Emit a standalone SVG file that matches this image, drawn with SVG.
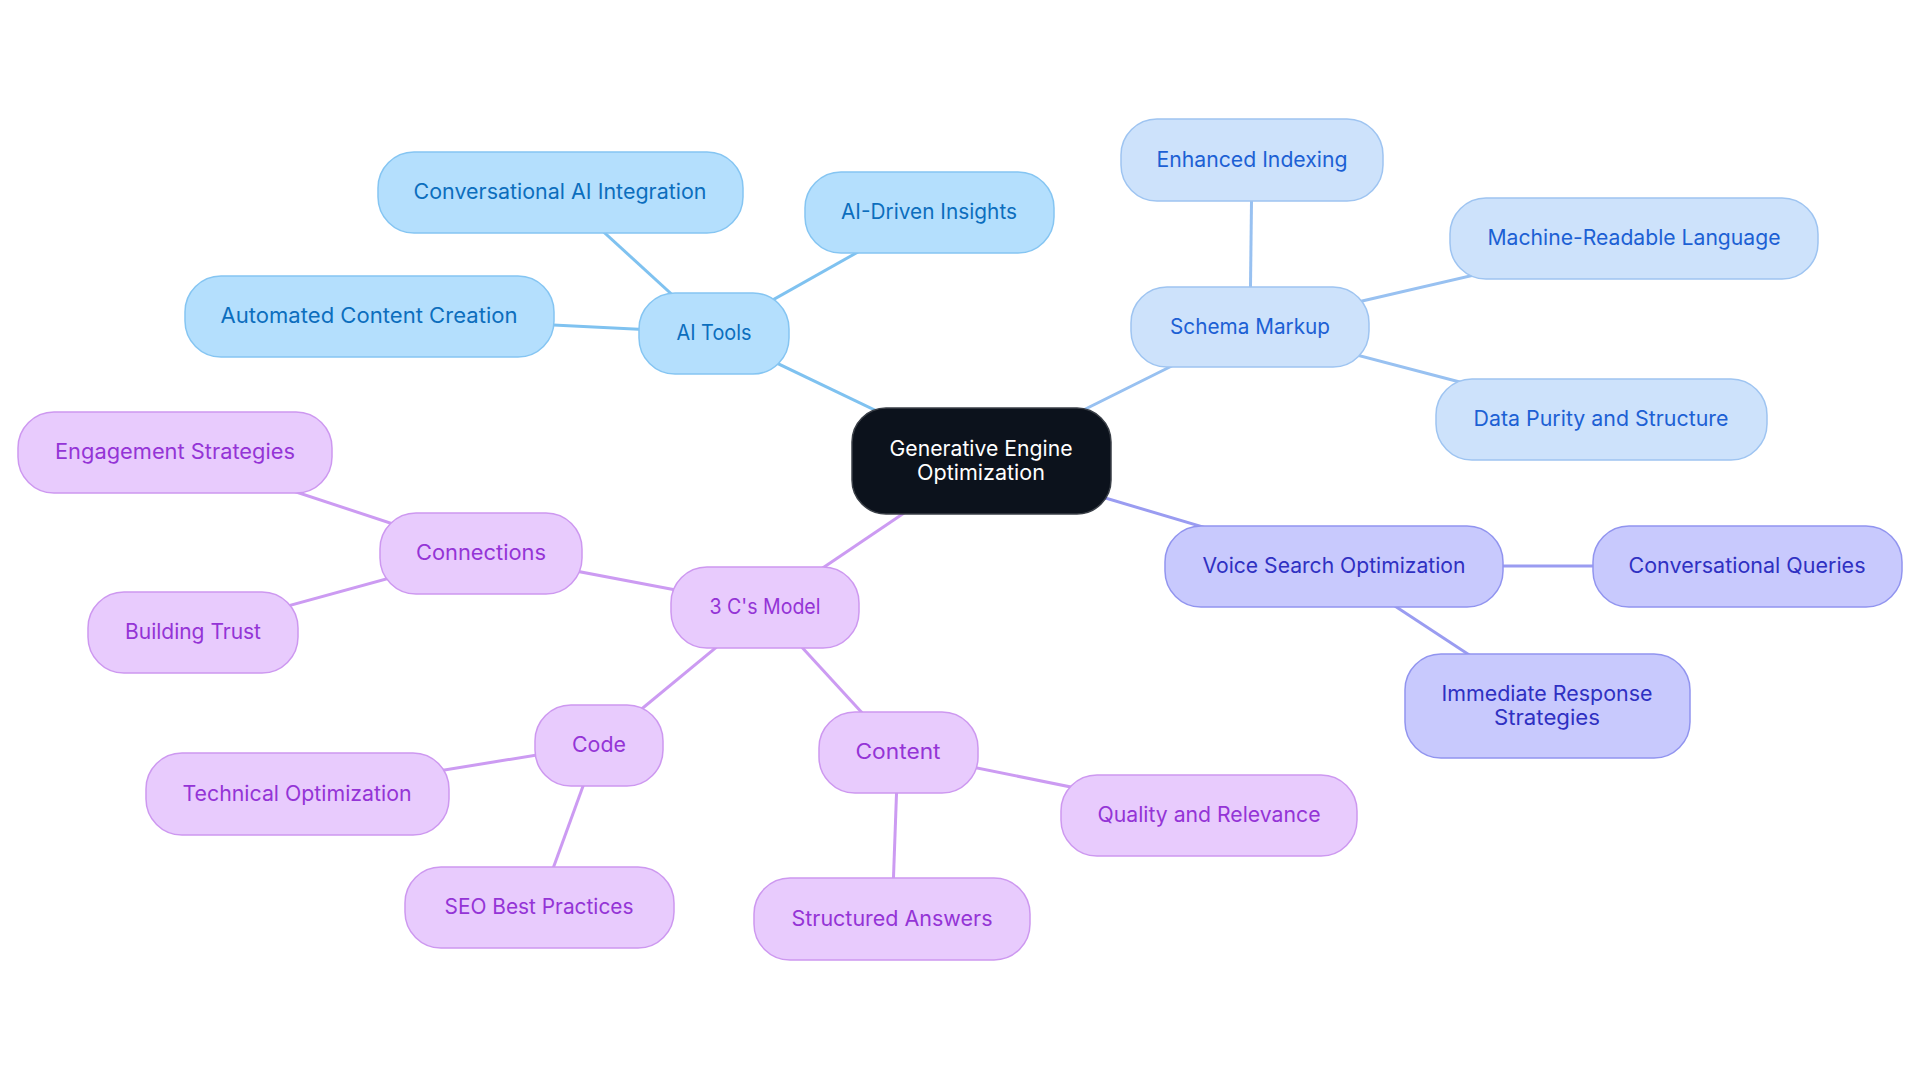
<svg xmlns="http://www.w3.org/2000/svg" width="1920" height="1083" viewBox="0 0 1920 1083">
<style>
text{font-family:Inter,"Liberation Sans",sans-serif;font-size:21px;text-anchor:middle}
.blue rect{fill:#b4dffd;stroke:#85c5f2;stroke-width:1.5}
.blue text{fill:#0c6ebd}
.sch rect{fill:#cde2fb;stroke:#9ec4f1;stroke-width:1.5}
.sch text{fill:#1c60d4}
.vo rect{fill:#c8c9fd;stroke:#9194ef;stroke-width:1.5}
.vo text{fill:#2f30c2}
.pu rect{fill:#e8cbfd;stroke:#cd98f0;stroke-width:1.5}
.pu text{fill:#9434d6}
.root rect{fill:#0c121c;stroke:#3a3f47;stroke-width:1.5}
.root text{fill:#ffffff}
#connectors line{stroke-width:3;fill:none}
.lb{stroke:#7fc2f0}.ls{stroke:#98c1f1}.lv{stroke:#9a9cf1}.lp{stroke:#cc9bf2}
</style>
<rect width="1920" height="1083" fill="#ffffff"/>
<g id="connectors">
<line class="lb" x1="714" y1="333" x2="981" y2="461"/>
<line class="lb" x1="560" y1="192" x2="714" y2="333"/>
<line class="lb" x1="369" y1="316" x2="714" y2="333"/>
<line class="lb" x1="929" y1="212" x2="714" y2="333"/>
<line class="ls" x1="1250" y1="327" x2="981" y2="461"/>
<line class="ls" x1="1250" y1="327" x2="1252" y2="160"/>
<line class="ls" x1="1250" y1="327" x2="1634" y2="238"/>
<line class="ls" x1="1250" y1="327" x2="1601" y2="419"/>
<line class="lv" x1="1334" y1="566" x2="981" y2="461"/>
<line class="lv" x1="1334" y1="566" x2="1747" y2="566"/>
<line class="lv" x1="1334" y1="566" x2="1547" y2="706"/>
<line class="lp" x1="765" y1="607" x2="981" y2="461"/>
<line class="lp" x1="765" y1="607" x2="481" y2="553"/>
<line class="lp" x1="481" y1="553" x2="175" y2="452"/>
<line class="lp" x1="481" y1="553" x2="193" y2="632"/>
<line class="lp" x1="765" y1="607" x2="598" y2="745"/>
<line class="lp" x1="598" y1="745" x2="297" y2="794"/>
<line class="lp" x1="598" y1="745" x2="539" y2="907"/>
<line class="lp" x1="765" y1="607" x2="898" y2="752"/>
<line class="lp" x1="898" y1="752" x2="1209" y2="815"/>
<line class="lp" x1="898" y1="752" x2="892" y2="919"/>
</g>
<g id="n-root" class="root"><rect x="852" y="408" width="259" height="106" rx="34"/><text x="981" y="456" textLength="183" lengthAdjust="spacingAndGlyphs">Generative Engine</text><text x="981" y="480" textLength="128" lengthAdjust="spacingAndGlyphs">Optimization</text></g>
<g id="n-aitools" class="blue"><rect x="639" y="293" width="150" height="81" rx="36"/><text x="714" y="340" textLength="75" lengthAdjust="spacingAndGlyphs">AI Tools</text></g>
<g id="n-cai" class="blue"><rect x="378" y="152" width="365" height="81" rx="36"/><text x="560" y="199" textLength="293" lengthAdjust="spacingAndGlyphs">Conversational AI Integration</text></g>
<g id="n-acc" class="blue"><rect x="185" y="276" width="369" height="81" rx="36"/><text x="369" y="323" textLength="297" lengthAdjust="spacingAndGlyphs">Automated Content Creation</text></g>
<g id="n-adi" class="blue"><rect x="805" y="172" width="249" height="81" rx="36"/><text x="929" y="219" textLength="176" lengthAdjust="spacingAndGlyphs">AI-Driven Insights</text></g>
<g id="n-schema" class="sch"><rect x="1131" y="287" width="238" height="80" rx="36"/><text x="1250" y="334" textLength="160" lengthAdjust="spacingAndGlyphs">Schema Markup</text></g>
<g id="n-index" class="sch"><rect x="1121" y="119" width="262" height="82" rx="36"/><text x="1252" y="167" textLength="191" lengthAdjust="spacingAndGlyphs">Enhanced Indexing</text></g>
<g id="n-mrl" class="sch"><rect x="1450" y="198" width="368" height="81" rx="36"/><text x="1634" y="245" textLength="293" lengthAdjust="spacingAndGlyphs">Machine-Readable Language</text></g>
<g id="n-dps" class="sch"><rect x="1436" y="379" width="331" height="81" rx="36"/><text x="1601" y="426" textLength="255" lengthAdjust="spacingAndGlyphs">Data Purity and Structure</text></g>
<g id="n-vso" class="vo"><rect x="1165" y="526" width="338" height="81" rx="36"/><text x="1334" y="573" textLength="263" lengthAdjust="spacingAndGlyphs">Voice Search Optimization</text></g>
<g id="n-cq" class="vo"><rect x="1593" y="526" width="309" height="81" rx="36"/><text x="1747" y="573" textLength="237" lengthAdjust="spacingAndGlyphs">Conversational Queries</text></g>
<g id="n-irs" class="vo"><rect x="1405" y="654" width="285" height="104" rx="36"/><text x="1547" y="701" textLength="211" lengthAdjust="spacingAndGlyphs">Immediate Response</text><text x="1547" y="725" textLength="106" lengthAdjust="spacingAndGlyphs">Strategies</text></g>
<g id="n-3cs" class="pu"><rect x="671" y="567" width="188" height="81" rx="36"/><text x="765" y="614" textLength="111" lengthAdjust="spacingAndGlyphs">3 C's Model</text></g>
<g id="n-conn" class="pu"><rect x="380" y="513" width="202" height="81" rx="36"/><text x="481" y="560" textLength="130" lengthAdjust="spacingAndGlyphs">Connections</text></g>
<g id="n-eng" class="pu"><rect x="18" y="412" width="314" height="81" rx="36"/><text x="175" y="459" textLength="240" lengthAdjust="spacingAndGlyphs">Engagement Strategies</text></g>
<g id="n-trust" class="pu"><rect x="88" y="592" width="210" height="81" rx="36"/><text x="193" y="639" textLength="136" lengthAdjust="spacingAndGlyphs">Building Trust</text></g>
<g id="n-code" class="pu"><rect x="535" y="705" width="128" height="81" rx="36"/><text x="599" y="752" textLength="54" lengthAdjust="spacingAndGlyphs">Code</text></g>
<g id="n-tech" class="pu"><rect x="146" y="753" width="303" height="82" rx="36"/><text x="297" y="801" textLength="229" lengthAdjust="spacingAndGlyphs">Technical Optimization</text></g>
<g id="n-seo" class="pu"><rect x="405" y="867" width="269" height="81" rx="36"/><text x="539" y="914" textLength="189" lengthAdjust="spacingAndGlyphs">SEO Best Practices</text></g>
<g id="n-content" class="pu"><rect x="819" y="712" width="159" height="81" rx="36"/><text x="898" y="759" textLength="85" lengthAdjust="spacingAndGlyphs">Content</text></g>
<g id="n-qr" class="pu"><rect x="1061" y="775" width="296" height="81" rx="36"/><text x="1209" y="822" textLength="223" lengthAdjust="spacingAndGlyphs">Quality and Relevance</text></g>
<g id="n-sa" class="pu"><rect x="754" y="878" width="276" height="82" rx="36"/><text x="892" y="926" textLength="201" lengthAdjust="spacingAndGlyphs">Structured Answers</text></g>
</svg>
